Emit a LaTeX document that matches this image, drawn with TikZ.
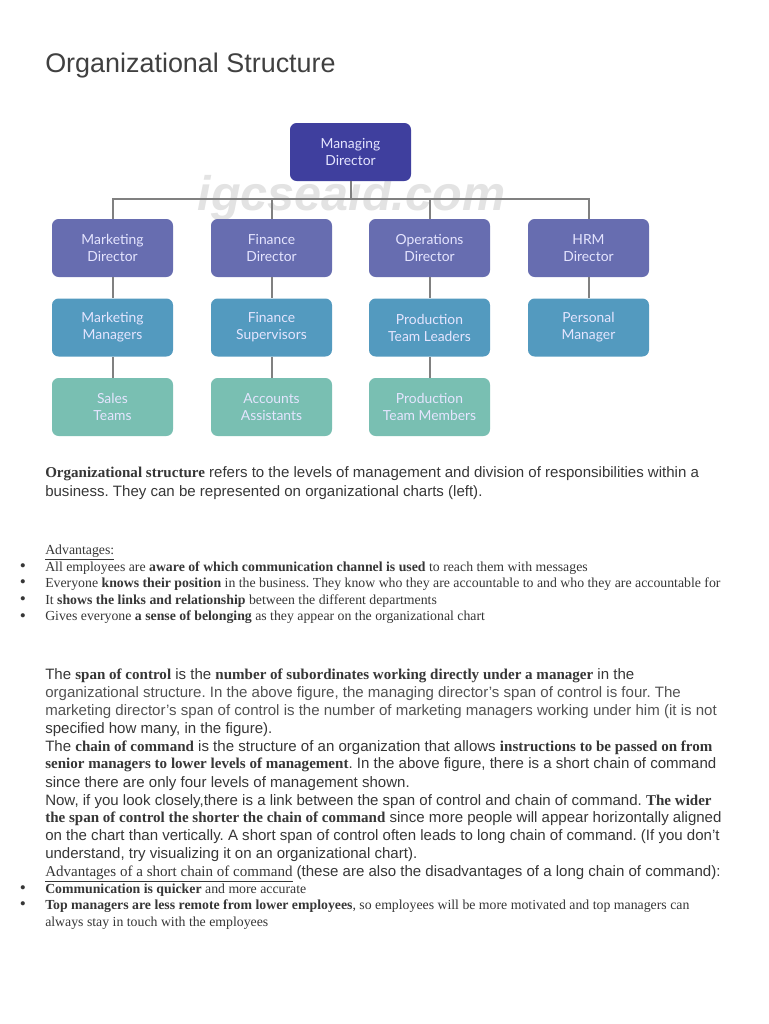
\documentclass[tikz,border=0pt]{standalone}
\usepackage{fontspec}
\setmainfont{Liberation Sans}
\newfontfamily\serifface{Liberation Serif}
\newfontfamily\chartface{Lato}
\usetikzlibrary{positioning}
\definecolor{topblue}{HTML}{3F3F9E}
\definecolor{dirblue}{HTML}{676DB0}
\definecolor{mgrblue}{HTML}{539ABF}
\definecolor{teamgreen}{HTML}{79BFB2}
\definecolor{linkgrey}{HTML}{808080}
\definecolor{inktext}{HTML}{363636}
\tikzset{
% Boxes of the chart, one style for each level
chart box/.style={rectangle,rounded corners=5,minimum width=90.75pt,minimum height=43.5pt,inner sep=0,align=center,text=white!90!blue,font=\fontsize{10.4}{12.7}\chartface},
top box/.style={chart box,fill=topblue},
director box/.style={chart box,fill=dirblue},
manager box/.style={chart box,fill=mgrblue},
team box/.style={chart box,fill=teamgreen},
link/.style={draw=linkgrey,line width=1.5pt},
% Lines of text
sans line/.style={anchor=base west,inner sep=0,text=inktext,font=\fontsize{11.28}{13}\selectfont},
serif line/.style={anchor=base west,inner sep=0,text=inktext,font=\fontsize{10.35}{12}\serifface},
dot/.style={anchor=base,inner sep=0,text=inktext,font=\fontsize{13}{13}\serifface}
}
\newcommand{\bt}[1]{{\serifface\bfseries #1}}
\frenchspacing
\begin{document}
\begin{tikzpicture}[x=0.75pt,y=-0.75pt]
	\useasboundingbox (0,0) rectangle (768,1024);
	% Title
	\node(title)[sans line,font=\fontsize{20.2}{24}\selectfont,text=black!75] at (45,73) {Organizational Structure};
	% Watermark
	\node(mark)[text=black!11,font=\fontsize{36.4}{40}\selectfont\bfseries\itshape,inner sep=0] at (351.5,198) {igcseaid.com};
	% The chart
	\node(md)[top box] at (350.5,152) {Managing\\Director};
	\node(mkd)[director box] at (112.5,248) {Marketing\\Director};
	\node(fid)[director box] at (271.5,248) {Finance\\Director};
	\node(opd)[director box] at (429.5,248) {Operations\\Director};
	\node(hrd)[director box] at (588.5,248) {HRM\\Director};
	\node(mkm)[manager box] at (112.5,327.5) {Marketing\\Managers};
	\node(fis)[manager box] at (271.5,327.5) {Finance\\Supervisors};
	\node(ptl)[manager box] at (429.5,327.5) {Production\\Team Leaders};
	\node(pem)[manager box] at (588.5,327.5) {Personal\\Manager};
	\node(sat)[team box] at (112.5,407) {Sales\\Teams};
	\node(aca)[team box] at (271.5,407) {Accounts\\Assistants};
	\node(ptm)[team box] at (429.5,407) {Production\\Team Members};
	\coordinate(bus) at (350.5,199);
	\draw[link] (md.south) -- (bus);
	\foreach \boss in {mkd,fid,opd,hrd}
		\draw[link] (\boss.north) |- (bus);
	\foreach \up/\down in {mkd/mkm,fid/fis,opd/ptl,hrd/pem,mkm/sat,fis/aca,ptl/ptm}
		\draw[link] (\up) -- (\down);
	% Definition
	\node(def1)[sans line] at (45,477) {\bt{Organizational structure} refers to the levels of management and division of responsibilities within a};
	\node(def2)[sans line] at (45,496) {business. They can be represented on organizational charts (left).};
	% Advantages
	\node(adv)[serif line] at (45,554) {\underline{Advantages:}};
	\node(b1)[dot] at (23,571) {•};
	\node(adv1)[serif line] at (45,571) {All employees are \textbf{aware of which communication channel is used} to reach them with messages};
	\node(b2)[dot] at (23,587) {•};
	\node(adv2)[serif line] at (45,587) {Everyone \textbf{knows their position} in the business. They know who they are accountable to and who they are accountable for};
	\node(b3)[dot] at (23,604) {•};
	\node(adv3)[serif line] at (45,604) {It \textbf{shows the links and relationship} between the different departments};
	\node(b4)[dot] at (23,621) {•};
	\node(adv4)[serif line] at (45,620) {Gives everyone \textbf{a sense of belonging} as they appear on the organizational chart};
	% Span and chain
	\node(sp1)[sans line] at (45,679) {The \bt{span of control} is the \bt{number of subordinates working directly under a manager} in the};
	\node(sp2)[sans line,text=black!68] at (45,697) {organizational structure. In the above figure, the managing director's span of control is four. The};
	\node(sp3)[sans line,text=black!68] at (45,715) {marketing director's span of control is the number of marketing managers working under him (it is not};
	\node(sp4)[sans line] at (45,733) {specified how many, in the figure).};
	\node(ch1)[sans line] at (45,751) {The \bt{chain of command} is the structure of an organization that allows \bt{instructions to be passed on from}};
	\node(ch2)[sans line] at (45,768) {\bt{senior managers to lower levels of management}. In the above figure, there is a short chain of command};
	\node(ch3)[sans line] at (45,787) {since there are only four levels of management shown.};
	\node(ln1)[sans line] at (45,805) {Now, if you look closely,there is a link between the span of control and chain of command. \bt{The wider}};
	\node(ln2)[sans line] at (45,822) {\bt{the span of control the shorter the chain of command} since more people will appear horizontally aligned};
	\node(ln3)[sans line] at (45,840) {on the chart than vertically. A short span of control often leads to long chain of command. (If you don't};
	\node(ln4)[sans line] at (45,858) {understand, try visualizing it on an organizational chart).};
	\node(sh0)[sans line] at (45,876) {{\serifface\underline{Advantages of a short chain of command}} (these are also the disadvantages of a long chain of command):};
	\node(b5)[dot] at (23,893) {•};
	\node(sh1)[serif line] at (45,893) {\textbf{Communication is quicker} and more accurate};
	\node(b6)[dot] at (23,909) {•};
	\node(sh2)[serif line] at (45,909) {\textbf{Top managers are less remote from lower employees}, so employees will be more motivated and top managers can};
	\node(sh3)[serif line] at (45,926) {always stay in touch with the employees};
\end{tikzpicture}
\end{document}
